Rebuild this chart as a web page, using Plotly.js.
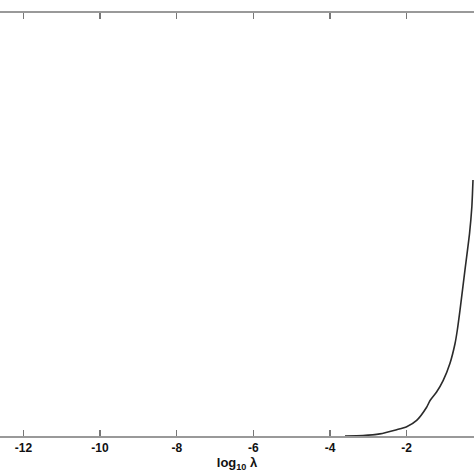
<!DOCTYPE html>
<html>
<head>
<meta charset="utf-8">
<script src="https://cdn.plot.ly/plotly-3.0.1.min.js"></script>
<style>
  html, body { margin: 0; padding: 0; background: #fff; }
  #chart { width: 474px; height: 474px; }
</style>
</head>
<body>
<div id="chart"></div>
<script>
// log10(lambda) values
const logLambda = [-3.61, -3.14, -2.70, -2.26, -2.00, -1.74, -1.48, -1.39, -1.22, -1.05,
  -0.87, -0.74, -0.68, -0.61, -0.48, -0.36, -0.30, -0.27];
// curve height (arbitrary units, 0 = bottom axis, 1 = top axis)
const curveValue = [0.000, 0.001, 0.005, 0.015, 0.022, 0.037, 0.068, 0.084, 0.104, 0.131,
  0.172, 0.218, 0.250, 0.297, 0.392, 0.479, 0.542, 0.605];
const tickVals = [-12, -10, -8, -6, -4, -2];
const tickLabels = ['-12', '-10', '-8', '-6', '-4', '-2'];

const chart = document.getElementById('chart');

const data = [
  {
    type: 'scatter',
    mode: 'lines',
    x: logLambda,
    y: curveValue,
    line: { color: '#2b2b2b', width: 1.6, shape: 'spline', smoothing: 0.6 },
    hoverinfo: 'skip',
  },
];

const layout = {
  width: 474,
  height: 474,
  margin: { l: 0, r: 0, t: 13, b: 38 },
  paper_bgcolor: '#ffffff',
  plot_bgcolor: '#ffffff',
  showlegend: false,
  font: { family: 'Liberation Sans, Arial, sans-serif', color: '#111' },
  xaxis: {
    range: [-12.61, -0.244],
    tickvals: tickVals,
    ticktext: tickLabels,
    ticks: 'inside',
    ticklen: 6,
    tickwidth: 1.2,
    tickcolor: '#777',
    showline: true,
    linecolor: '#999',
    linewidth: 2,
    mirror: 'ticks',
    showgrid: false,
    zeroline: false,
    tickfont: { size: 12, color: '#111', weight: 'bold' },
    title: {
      text: 'log<sub>10</sub> λ',
      font: { size: 13, color: '#111', weight: 'bold' },
      standoff: 0,
    },
  },
  yaxis: {
    range: [0, 1],
    showline: false,
    showgrid: false,
    zeroline: false,
    showticklabels: false,
    ticks: '',
  },
};

Plotly.newPlot(chart, data, layout, { staticPlot: true, displayModeBar: false });
</script>
</body>
</html>
